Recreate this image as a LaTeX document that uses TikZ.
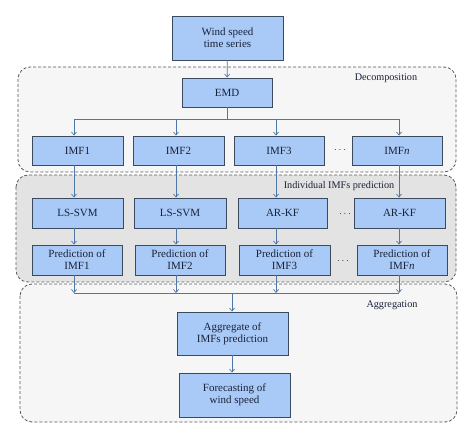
\documentclass[tikz,border=0pt]{standalone}
\usepackage{fontspec}
\setmainfont{Liberation Serif}
\usepackage{tikz}
\usetikzlibrary{arrows.meta}

\definecolor{boxfill}{HTML}{A9C9F7}
\definecolor{boxline}{HTML}{3C4A5E}
\definecolor{arrowc}{HTML}{4E76A6}
\definecolor{txtc}{HTML}{1A2338}
\definecolor{stageA}{HTML}{F6F6F6}
\definecolor{stageB}{HTML}{E3E3E3}

\begin{document}
\begin{tikzpicture}[x=1pt,y=-1pt]
            \tikzstyle{myBox}=[rectangle,draw=boxline,fill=boxfill,line width=0.9pt,
                               align=center,text=txtc,font=\fontsize{11}{12}\selectfont,
                               inner sep=1pt];
            \tikzstyle{myStage}=[draw=black!65,dashed,dash pattern=on 3pt off 2pt,
                                 line width=0.8pt,rounded corners=12pt];
            \tikzstyle{myArr}=[draw=arrowc,line width=0.7pt,-{Straight Barb[length=3pt,width=5pt]}];
            \tikzstyle{myLine}=[draw=arrowc,line width=0.7pt];
            \tikzstyle{myLbl}=[text=txtc,font=\fontsize{10.2}{11}\selectfont];
            \useasboundingbox (0,0) rectangle (474,438);
            % stages
            \draw[myStage,fill=stageA] (18,67) rectangle (456,172);
            \draw[myStage,fill=stageB] (16,175) rectangle (456,282);
            \draw[myStage,fill=stageA] (20,284) rectangle (457,422);
            \node[myLbl] (lblDec) at (386,78) {Decomposition};
            \node[myLbl] (lblInd) at (339,186) {Individual IMFs prediction};
            \node[myLbl] (lblAgg) at (392,305) {Aggregation};
            % boxes
            \node[myBox,minimum width=111pt,minimum height=44pt] (ws) at (227.5,38) {Wind speed\\time series};
            \node[myBox,minimum width=90pt,minimum height=29pt] (emd) at (227,92.5) {EMD};
            \node[myBox,minimum width=91pt,minimum height=29pt] (imf1) at (77.5,150.5) {IMF1};
            \node[myBox,minimum width=91pt,minimum height=29pt] (imf2) at (178.5,150.5) {IMF2};
            \node[myBox,minimum width=90pt,minimum height=29pt] (imf3) at (279,150.5) {IMF3};
            \node[myBox,minimum width=90pt,minimum height=29pt] (imfn) at (397,150.5) {IMF\textit{n}};
            \node[myBox,minimum width=91pt,minimum height=30pt] (svm1) at (77.5,213) {LS-SVM};
            \node[myBox,minimum width=92pt,minimum height=30pt] (svm2) at (180,213) {LS-SVM};
            \node[myBox,minimum width=89pt,minimum height=30pt] (kf3) at (282.5,213) {AR-KF};
            \node[myBox,minimum width=91pt,minimum height=30pt] (kfn) at (399.5,213) {AR-KF};
            \node[myBox,minimum width=90pt,minimum height=30pt] (p1) at (77,260) {Prediction of\\IMF1};
            \node[myBox,minimum width=90pt,minimum height=30pt] (p2) at (180,260) {Prediction of\\IMF2};
            \node[myBox,minimum width=91pt,minimum height=30pt] (p3) at (284.5,260) {Prediction of\\IMF3};
            \node[myBox,minimum width=90pt,minimum height=30pt] (pn) at (402,260) {Prediction of\\IMF\textit{n}};
            \node[myBox,minimum width=111pt,minimum height=43pt] (agg) at (232.5,333.5) {Aggregate of\\IMFs prediction};
            \node[myBox,minimum width=111pt,minimum height=44pt] (fc) at (234.5,395) {Forecasting of\\wind speed};
            % dots
            \node[myLbl] (d1) at (340,150) {$\cdots$};
            \node[myLbl] (d2) at (345,214) {$\cdots$};
            \node[myLbl] (d3) at (343,261) {$\cdots$};
            % branch and merge points
            \coordinate (b1) at (74,119);
            \coordinate (b2) at (176,119);
            \coordinate (b3) at (276,119);
            \coordinate (b4) at (399,119);
            \coordinate (m1) at (74,293);
            \coordinate (m2) at (176,293);
            \coordinate (m3) at (276,293);
            \coordinate (m4) at (399,293);
            \coordinate (mc) at (232,293);
            % connectors
            \draw[myArr] (ws) -- (emd);
            \draw[myLine] (emd) -- (emd.south |- b1);
            \draw[myLine] (b1) -- (b4);
            \foreach \c/\a/\b/\p in {1/imf1/svm1/p1, 2/imf2/svm2/p2, 3/imf3/kf3/p3, 4/imfn/kfn/pn}{
              \draw[myArr] (b\c) -- (b\c |- \a.north);
              \draw[myArr] (b\c |- \a.south) -- (b\c |- \b.north);
              \draw[myArr] (b\c |- \b.south) -- (b\c |- \p.north);
              \draw[myArr] (m\c |- \p.south) -- (m\c);
            }
            \draw[myLine] (m1) -- (m4);
            \draw[myArr] (mc) -- (mc |- agg.north);
            \draw[myArr] (mc |- agg.south) -- (mc |- fc.north);
         \end{tikzpicture}
\end{document}
